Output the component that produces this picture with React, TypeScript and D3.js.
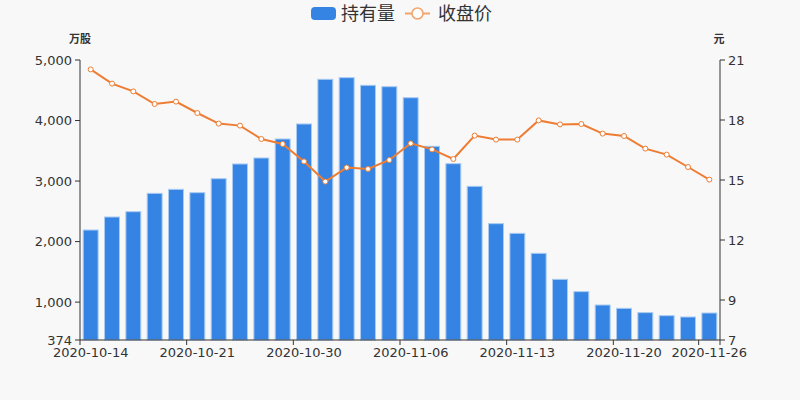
import React from "react";
import * as d3 from "d3";

const dates = [
  "2020-10-14","2020-10-15","2020-10-16","2020-10-19","2020-10-20","2020-10-21",
  "2020-10-22","2020-10-23","2020-10-26","2020-10-29","2020-10-30",
  "2020-11-02","2020-11-03","2020-11-04","2020-11-05","2020-11-06",
  "2020-11-09","2020-11-10","2020-11-11","2020-11-12","2020-11-13",
  "2020-11-16","2020-11-17","2020-11-18","2020-11-19","2020-11-20",
  "2020-11-23","2020-11-24","2020-11-25","2020-11-26",
];
const shownLabels = ["2020-10-14","2020-10-21","2020-10-30","2020-11-06","2020-11-13","2020-11-20","2020-11-26"];
const holdings = [
  2191, 2406, 2494, 2797, 2863, 2808, 3039, 3282, 3381, 3695,
  3943, 4681, 4708, 4582, 4559, 4377, 3574, 3287, 2913, 2296,
  2136, 1806, 1376, 1173, 952, 897, 826, 776, 754, 820,
];
const closePrice = [
  20.53, 19.82, 19.43, 18.8, 18.92, 18.35, 17.82, 17.72, 17.05, 16.8,
  15.93, 14.92, 15.62, 15.55, 16.0, 16.83, 16.53, 16.05, 17.22, 17.02,
  17.02, 17.98, 17.78, 17.8, 17.32, 17.2, 16.57, 16.27, 15.65, 15.02,
];
const leftTicks = [374, 1000, 2000, 3000, 4000, 5000];
const rightTicks = [7, 9, 12, 15, 18, 21];

const W = 800, H = 400;
const L = 80, R = 720, T = 60, B = 340;
const axisFont = "'DejaVu Sans', sans-serif";
const cjkFont = "'Noto Sans CJK SC', sans-serif";

export default function App() {
  const x = d3.scaleBand<string>().domain(dates).range([L, R]).paddingInner(0.3).paddingOuter(0.15);
  const band = (R - L) / dates.length;
  const yL = d3.scaleLinear().domain([374, 5000]).range([B, T]);
  const yR = d3.scaleLinear().domain([7, 21]).range([B, T]);
  const bw = band * 0.7;
  const cx = (i: number) => L + band * (i + 0.5);
  const line = d3.line<number>().x((_, i) => cx(i)).y((v) => yR(v));
  const fmt = d3.format(",");
  const tickIdx = [0, 5, 10, 15, 20, 25, 29, 30];

  return (
    <svg width={W} height={H} style={{ position: "absolute", left: 0, top: 0, background: "#f8f8f8" }}>
      <rect x={0} y={0} width={W} height={H} fill="#f8f8f8" />
      {/* legend */}
      <rect x={311} y={7} width={25} height={13} rx={4} fill="#3584e3" />
      <text x={341} y={19.5} fontSize={18} fontFamily={cjkFont} fill="#333">持有量</text>
      <line x1={405} x2={430} y1={13.5} y2={13.5} stroke="#f3a46b" strokeWidth={2} />
      <circle cx={417.5} cy={13.5} r={5.5} fill="#fff" stroke="#f3a46b" strokeWidth={1.5} />
      <text x={438} y={19.5} fontSize={18} fontFamily={cjkFont} fill="#333">收盘价</text>

      {/* units */}
      <text x={80} y={43} textAnchor="middle" fontSize={11} fontWeight="bold" fontFamily={cjkFont} fill="#333">万股</text>
      <text x={719} y={43} textAnchor="middle" fontSize={11} fontWeight="bold" fontFamily={cjkFont} fill="#333">元</text>

      {/* bars */}
      {holdings.map((v, i) => (
        <rect key={i} x={cx(i) - bw / 2} y={yL(v)} width={bw} height={B - yL(v)}
          fill="#3584e3" stroke="#a9cbf3" strokeWidth={1} />
      ))}

      {/* line */}
      <path d={line(closePrice) || ""} fill="none" stroke="#ee7d33" strokeWidth={2} />
      {closePrice.map((v, i) => (
        <circle key={i} cx={cx(i)} cy={yR(v)} r={2.5} fill="#fff" stroke="#ee7d33" strokeWidth={1} />
      ))}

      {/* left axis */}
      <line x1={L} x2={L} y1={T} y2={B} stroke="#333" />
      {leftTicks.map((t) => (
        <g key={t}>
          <line x1={L - 5} x2={L} y1={yL(t)} y2={yL(t)} stroke="#333" />
          <text x={L - 8} y={yL(t) + 4.5} textAnchor="end" fontSize={13} fontFamily={axisFont} fill="#333">{fmt(t)}</text>
        </g>
      ))}
      {/* right axis */}
      <line x1={R} x2={R} y1={T} y2={B} stroke="#333" />
      {rightTicks.map((t) => (
        <g key={t}>
          <line x1={R} x2={R + 5} y1={yR(t)} y2={yR(t)} stroke="#333" />
          <text x={R + 8} y={yR(t) + 4.5} textAnchor="start" fontSize={13} fontFamily={axisFont} fill="#333">{t}</text>
        </g>
      ))}
      {/* x axis */}
      <line x1={L} x2={R} y1={B} y2={B} stroke="#333" />
      {tickIdx.map((k) => (
        <line key={k} x1={L + band * k} x2={L + band * k} y1={B} y2={B + 5} stroke="#333" />
      ))}
      {dates.map((d, i) =>
        shownLabels.includes(d) ? (
          <text key={d} x={cx(i)} y={B + 17} textAnchor="middle" fontSize={13} fontFamily={axisFont} fill="#333">{d}</text>
        ) : null
      )}
    </svg>
  );
}
